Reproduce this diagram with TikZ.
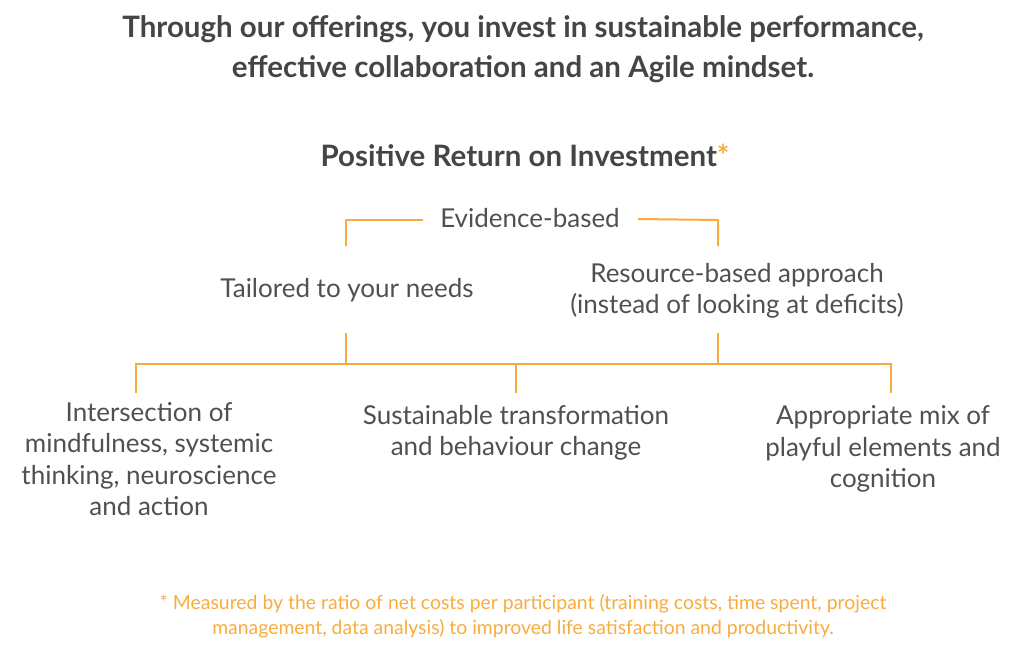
\documentclass[tikz,border=0pt]{standalone}
\usepackage{fontspec}
\setmainfont{Lato}
\definecolor{org}{HTML}{F9AC3D}
\definecolor{txt}{HTML}{505050}
\definecolor{ttl}{HTML}{454545}
\begin{document}
\begin{tikzpicture}[x=1pt,y=-1pt,
  body/.style={text=txt,font=\fontsize{26}{31.5}\selectfont,align=center,inner sep=0pt},
  head/.style={text=ttl,font=\bfseries\fontsize{29.5}{40}\selectfont,align=center,inner sep=0pt},
  conn/.style={draw=org,line width=2pt},
  foot/.style={text=org,font=\fontsize{19.4}{25}\selectfont,align=center,inner sep=0pt}]
\useasboundingbox (0,0) rectangle (1024,652);
\node[head] (title) at (523,49) {Through our offerings, you invest in sustainable performance,\\effective collaboration and an Agile mindset.};
\node[head] (roi) at (525,155) {Positive Return on Investment\textcolor{org}{*}};
\node[body] (evid) at (530,218) {Evidence-based};
\node[body] (tail) at (347,290) {Tailored to your needs};
\node[body] (res) at (737,291) {Resource-based approach\\(instead of looking at deficits)};
\node[body] (inter) at (149,459) {Intersection of\\mindfulness, systemic\\thinking, neuroscience\\and action};
\node[body] (sust) at (516,433) {Sustainable transformation\\and behaviour change};
\node[body] (mix) at (883,449) {Appropriate mix of\\playful elements and\\cognition};
\node[foot] (fn) at (523,616) {* Measured by the ratio of net costs per participant (training costs, time spent, project\\management, data analysis) to improved life satisfaction and productivity.};
\coordinate (el) at (423,220);
\coordinate (er) at (638,219);
\coordinate (ltop) at (346,246);
\coordinate (rtop) at (718,246);
\coordinate (lb) at (346,333);
\coordinate (rb) at (718,333);
\coordinate (bar) at (516,364);
\coordinate (d1) at (136,393);
\coordinate (d2) at (516,393);
\coordinate (d3) at (891,393);
\draw[conn] (ltop) |- (el);
\draw[conn] (er) -- (718,220) -- (rtop);
\draw[conn] (lb) -- (lb |- bar);
\draw[conn] (rb) -- (rb |- bar);
\draw[conn] (d1) |- (bar -| d3) -- (d3);
\draw[conn] (bar) -- (d2);
\end{tikzpicture}
\end{document}
